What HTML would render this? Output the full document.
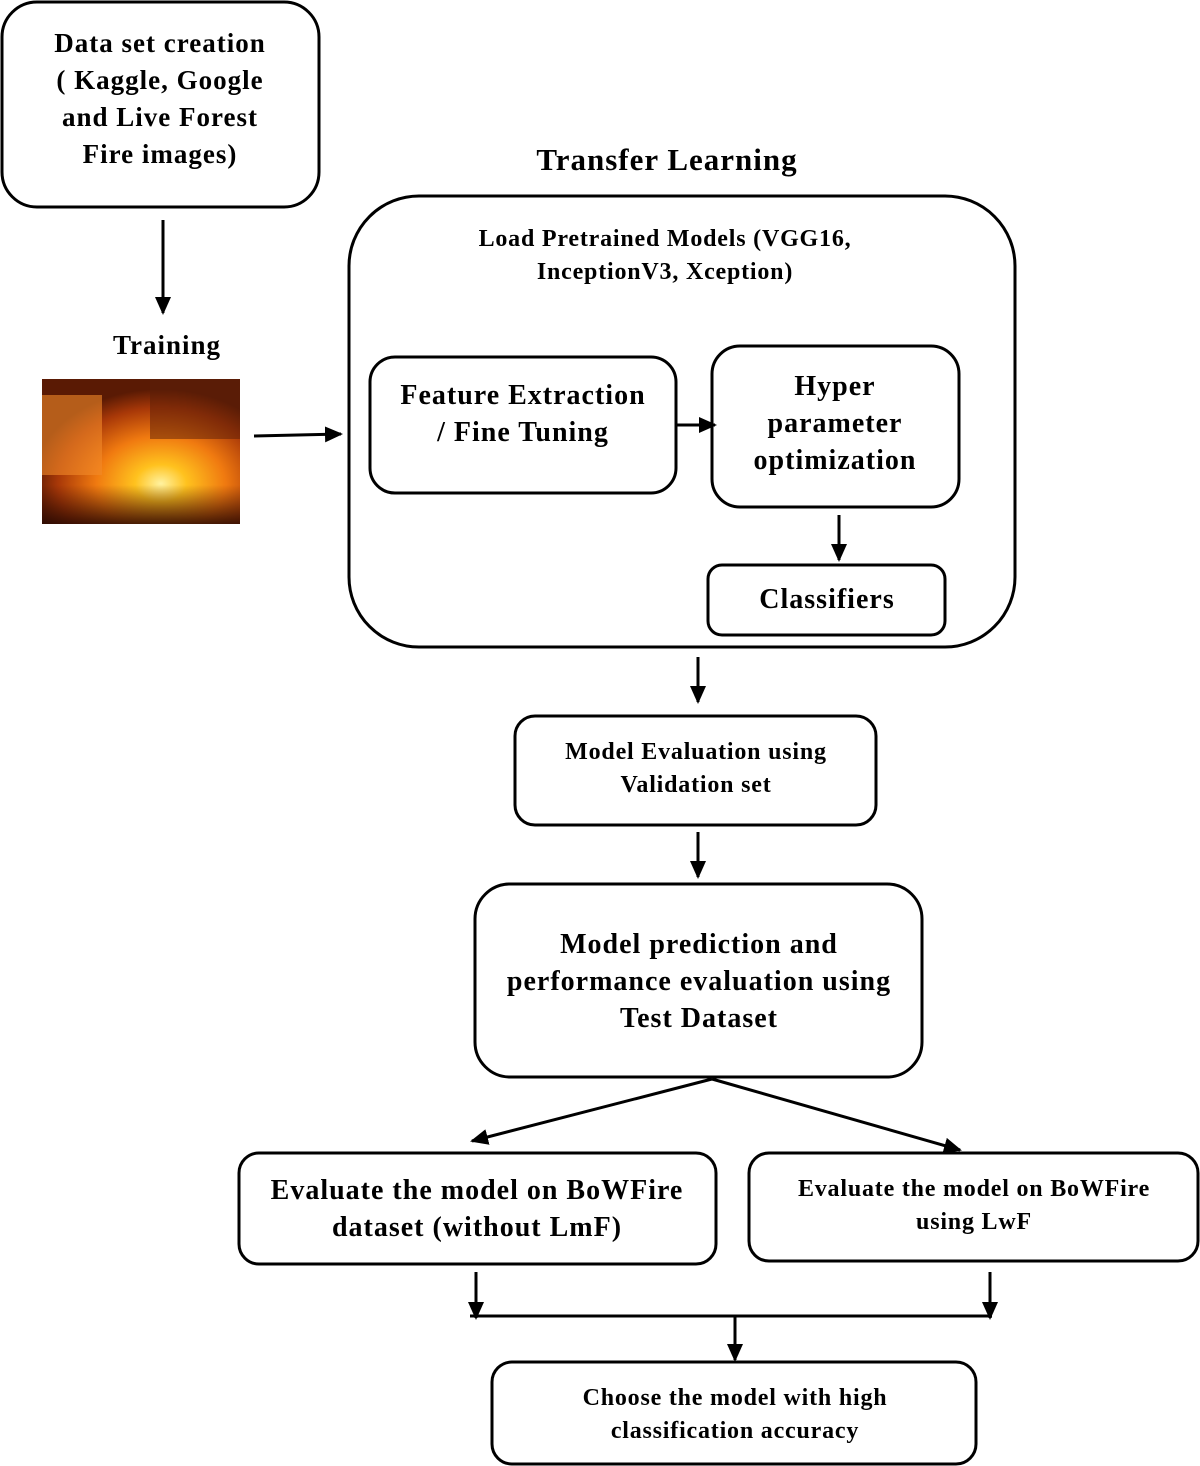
<!DOCTYPE html>
<html><head><meta charset="utf-8"><style>
html,body{margin:0;padding:0;background:#fff}
svg{display:block}
text{font-family:"Liberation Serif",serif;font-weight:bold;fill:#000;text-anchor:middle;letter-spacing:1px}
text.s{letter-spacing:0.8px}
</style></head><body>
<svg width="1200" height="1466" viewBox="0 0 1200 1466" xmlns="http://www.w3.org/2000/svg">
<defs>
<marker id="b" markerWidth="18" markerHeight="16" refX="16" refY="8" orient="auto" markerUnits="userSpaceOnUse">
<path d="M0,0 L18,8 L0,16 z" fill="#000"/>
</marker>
<radialGradient id="fire" cx="0.6" cy="0.72" r="0.65">
<stop offset="0" stop-color="#fff2a0"/>
<stop offset="0.2" stop-color="#ffc21e"/>
<stop offset="0.5" stop-color="#f07a10"/>
<stop offset="0.8" stop-color="#a83808"/>
<stop offset="1" stop-color="#5a1a04"/>
</radialGradient>
<linearGradient id="bot" x1="0" y1="0" x2="0" y2="1">
<stop offset="0" stop-color="#3a1004" stop-opacity="0"/>
<stop offset="1" stop-color="#2a0a02" stop-opacity="0.85"/>
</linearGradient>
</defs>
<rect x="42" y="379" width="198" height="145" fill="url(#fire)"/>
<rect x="42" y="395" width="60" height="80" fill="#f28a2a" opacity="0.6"/>
<rect x="150" y="379" width="90" height="60" fill="#5a1e08" opacity="0.5"/>
<rect x="42" y="485" width="198" height="39" fill="url(#bot)"/>
<g fill="none" stroke="#000" stroke-width="3">
<rect x="2" y="2" width="317" height="205" rx="35"/>
<rect x="349" y="196" width="666" height="451" rx="70"/>
<rect x="370" y="357" width="306" height="136" rx="25"/>
<rect x="712" y="346" width="247" height="161" rx="28"/>
<rect x="708" y="565" width="237" height="70" rx="14"/>
<rect x="515" y="716" width="361" height="109" rx="20"/>
<rect x="475" y="884" width="447" height="193" rx="35"/>
<rect x="239" y="1153" width="477" height="111" rx="20"/>
<rect x="749" y="1153" width="449" height="108" rx="20"/>
<rect x="492" y="1362" width="484" height="102" rx="20"/>
<line x1="163" y1="220" x2="163" y2="313" marker-end="url(#b)"/>
<line x1="254" y1="436" x2="341" y2="434" marker-end="url(#b)"/>
<line x1="676" y1="425" x2="715" y2="425" marker-end="url(#b)"/>
<line x1="839" y1="515" x2="839" y2="560" marker-end="url(#b)"/>
<line x1="698" y1="657" x2="698" y2="702" marker-end="url(#b)"/>
<line x1="698" y1="832" x2="698" y2="877" marker-end="url(#b)"/>
<line x1="712" y1="1079" x2="472" y2="1141" marker-end="url(#b)"/>
<line x1="712" y1="1079" x2="960" y2="1150" marker-end="url(#b)"/>
<line x1="476" y1="1272" x2="476" y2="1318" marker-end="url(#b)"/>
<line x1="990" y1="1272" x2="990" y2="1318" marker-end="url(#b)"/>
<line x1="470" y1="1316" x2="992" y2="1316"/>
<line x1="735" y1="1316" x2="735" y2="1360" marker-end="url(#b)"/>
</g>
<text font-size="27"><tspan x="160" y="52">Data set creation</tspan><tspan x="160" y="89">( Kaggle, Google</tspan><tspan x="160" y="126">and Live Forest</tspan><tspan x="160" y="163">Fire images)</tspan></text>
<text x="667" y="170" font-size="31">Transfer Learning</text>
<text x="167" y="354" font-size="27">Training</text>
<text class="s" font-size="24"><tspan x="665" y="246">Load Pretrained Models (VGG16,</tspan><tspan x="665" y="279">InceptionV3, Xception)</tspan></text>
<text font-size="28"><tspan x="523" y="404">Feature Extraction</tspan><tspan x="523" y="441">/ Fine Tuning</tspan></text>
<text font-size="28"><tspan x="835" y="395">Hyper</tspan><tspan x="835" y="432">parameter</tspan><tspan x="835" y="469">optimization</tspan></text>
<text x="827" y="608" font-size="28">Classifiers</text>
<text class="s" font-size="24"><tspan x="696" y="759">Model Evaluation using</tspan><tspan x="696" y="792">Validation set</tspan></text>
<text font-size="28"><tspan x="699" y="953">Model prediction and</tspan><tspan x="699" y="990">performance evaluation using</tspan><tspan x="699" y="1027">Test Dataset</tspan></text>
<text font-size="28"><tspan x="477" y="1199">Evaluate the model on BoWFire</tspan><tspan x="477" y="1236">dataset (without LmF)</tspan></text>
<text class="s" font-size="24"><tspan x="974" y="1196">Evaluate the model on BoWFire</tspan><tspan x="974" y="1229">using LwF</tspan></text>
<text class="s" font-size="24"><tspan x="735" y="1405">Choose the model with high</tspan><tspan x="735" y="1438">classification accuracy</tspan></text>
</svg>
</body></html>
